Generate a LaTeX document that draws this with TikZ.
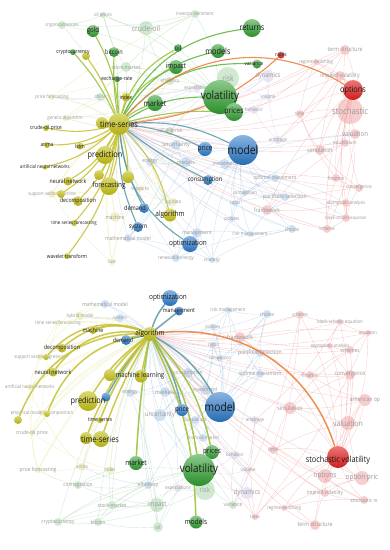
\documentclass[tikz,border=0pt]{standalone}
\usepackage{fontspec}
\setmainfont{Open Sans}[FakeStretch=0.86]
\usepackage{xcolor}
\definecolor{kwGreen}{HTML}{2E9E2E}
\definecolor{kwYellow}{HTML}{C2BE14}
\definecolor{kwBlue}{HTML}{2878C8}
\definecolor{kwRed}{HTML}{E01E1E}
\definecolor{kwPurple}{HTML}{9A80D0}
\definecolor{edgeYellow}{HTML}{C8C43A}
\definecolor{edgeLime}{HTML}{9CC23C}
\definecolor{edgeGreen}{HTML}{62B843}
\definecolor{edgeTeal}{HTML}{5E9EA8}
\definecolor{edgeOrange}{HTML}{EA8340}
\definecolor{darkText}{HTML}{1A1A1A}
\usepackage{tikz}
\usetikzlibrary{backgrounds}
\tikzset{
    % keyword bubbles
    kw base/.style={circle, inner sep=0pt, draw=none, minimum size=#1},
    green kw/.style={kw base=#1, top color=kwGreen!55!white, bottom color=kwGreen!90!black},
    yellow kw/.style={kw base=#1, top color=kwYellow!60!white, bottom color=kwYellow!92!black},
    blue kw/.style={kw base=#1, top color=kwBlue!55!white, bottom color=kwBlue!90!black},
    red kw/.style={kw base=#1, top color=kwRed!60!white, bottom color=kwRed!92!black},
    % labels on top of the bubbles
    kw label/.style={font=\fontsize{#1}{#1}\selectfont, text=darkText, inner sep=0pt},
    % background keywords
    faded dot/.style={circle, inner sep=0pt, minimum size=#1, opacity=.55},
    faded label/.style={font=\fontsize{#1}{#1}\selectfont, text=black!40, inner sep=0pt},
    web/.style={line width=.35pt, draw=#1!50, opacity=.45},
    % highlighted links
    link/.style={draw=#1, line width=1.3pt, opacity=.9, line cap=round},
}

\begin{document}
\begin{tikzpicture}[x=1pt, y=-1pt]
    \useasboundingbox (0,0) rectangle (390,550);

    % ---- top map: time-series ----
    \node[yellow kw=12pt] (tts2) at (102,123) {};
    \node[yellow kw=8pt] (tylwa) at (86,56) {};
    \node[yellow kw=10pt] (tylwb) at (99,175) {};
    \node[yellow kw=12pt] (tylwc) at (128,177) {};
    \node[yellow kw=8pt] (tylwd) at (61,194) {};
    \node[green kw=12pt, label={[kw label=7]center:gold}] (tgold) at (93,31) {};
    \node[green kw=6pt, label={[kw label=5.5]center:cryptocurrency}] (tcrypto) at (73,52) {};
    \node[green kw=10pt, label={[kw label=6.5]center:bitcoin}] (tbitcoin) at (114,52) {};
    \node[green kw=6pt, label={[kw label=5.5]center:exchange-rate}] (texrate) at (117,79) {};
    \node[yellow kw=9pt, label={[kw label=5.5]center:index}] (tindex) at (126,97) {};
    \node[green kw=16pt, label={[kw label=8]center:market}] (tmarket) at (155,103) {};
    \node[green kw=14pt, label={[kw label=7.5]center:impact}] (timpact) at (176,67) {};
    \node[green kw=8pt, label={[kw label=6.5]center:oil}] (toil) at (178,48) {};
    \node[green kw=18pt, label={[kw label=8.5]center:returns}] (treturns) at (252,28) {};
    \node[green kw=14pt, label={[kw label=8.5]center:models}] (tmodels) at (218,51) {};
    \node[green kw=9pt, label={[kw label=5.5, xshift=-3pt]center:variance}] (tvariance) at (257,64) {};
    \node[red kw=7pt, label={[kw label=5.5]center:rates}] (trates) at (281,55) {};
    \node[green kw=34pt, label={[kw label=11.5]center:volatility}] (tvol) at (220,97) {};
    \node[green kw=18pt, label={[kw label=8]center:prices}] (tprices) at (234,112) {};
    \node[red kw=20pt, label={[kw label=8.5]center:options}] (toptions) at (353,90) {};
    \node[yellow kw=22pt, label={[kw label=8.5]center:time-series}] (tts) at (119,124) {};
    \node[yellow kw=6pt, label={[kw label=5.5]center:crude-oil price}] (tcop) at (46,128) {};
    \node[yellow kw=6pt, label={[kw label=5.5]center:arima}] (tarima) at (47,145) {};
    \node[yellow kw=7pt, label={[kw label=5.5]center:lstm}] (tlstm) at (80,146) {};
    \node[yellow kw=18pt, label={[kw label=8.5]center:prediction}] (tpred) at (105,155) {};
    \node[yellow kw=5pt, label={[kw label=5]center:artificial neural networks}] (tann) at (45,167) {};
    \node[yellow kw=9pt, label={[kw label=6]center:neural network}] (tnn) at (68,181) {};
    \node[yellow kw=18pt, label={[kw label=7.5]center:forecasting}] (tfore) at (109,186) {};
    \node[yellow kw=10pt, label={[kw label=6]center:decomposition}] (tdecomp) at (78,201) {};
    \node[yellow kw=6pt, label={[kw label=5]center:time series forecasting}] (ttsf) at (74,223) {};
    \node[yellow kw=6pt, label={[kw label=5.5]center:wavelet transform}] (twave) at (67,256) {};
    \node[blue kw=10pt, label={[kw label=6.5, xshift=-9pt]center:demand}] (tdemand) at (144,208) {};
    \node[blue kw=10pt, label={[kw label=6.5]center:system}] (tsystem) at (138,227) {};
    \node[yellow kw=13pt, label={[kw label=7.5]center:algorithm}] (talgo) at (170,215) {};
    \node[blue kw=16pt, label={[kw label=7.5, xshift=-2pt]center:optimization}] (toptim) at (190,244) {};
    \node[blue kw=14pt, label={[kw label=7.5]center:price}] (tprice) at (205,149) {};
    \node[blue kw=10pt, label={[kw label=6.5, xshift=-3pt]center:consumption}] (tconsum) at (208,180) {};
    \node[blue kw=30pt, label={[kw label=12]center:model}] (tmodel) at (243,150) {};

    % ---- bottom map: algorithm ----
    \node[yellow kw=12pt] (bts2) at (86,438) {};
    \node[yellow kw=12pt] (bml2) at (110,375) {};
    \node[blue kw=9pt] (bbluea) at (106,397) {};
    \node[yellow kw=6pt] (bylwa) at (46,357) {};
    \node[yellow kw=8pt] (bylwb) at (18,420) {};
    \node[yellow kw=6pt] (bylwc) at (47,414) {};
    \node[blue kw=16pt, label={[kw label=7.5, xshift=-2pt]center:optimization}] (boptim) at (170,298) {};
    \node[blue kw=9pt, label={[kw label=6]center:management}] (bmanage) at (179,311) {};
    \node[yellow kw=8pt, label={[kw label=6]center:machine}] (bmachine) at (93,330) {};
    \node[blue kw=10pt, label={[kw label=6, xshift=-3pt]center:demand}] (bdemand) at (126,340) {};
    \node[yellow kw=9pt, label={[kw label=6]center:decomposition}] (bdecomp) at (62,348) {};
    \node[yellow kw=9pt, label={[kw label=6]center:neural network}] (bnn) at (53,372) {};
    \node[yellow kw=13pt, label={[kw label=7, xshift=-1pt]center:machine learning}] (bml) at (141,376) {};
    \node[yellow kw=20pt, label={[kw label=8.5]center:prediction}] (bpred) at (88,401) {};
    \node[yellow kw=6pt, label={[kw label=5.5]center:time series}] (btsmall) at (100,420) {};
    \node[yellow kw=16pt, label={[kw label=8.5, xshift=-1pt]center:time-series}] (bts) at (101,439) {};
    \node[green kw=14pt, label={[kw label=7.5]center:market}] (bmarket) at (136,463) {};
    \node[blue kw=12pt, label={[kw label=7]center:price}] (bprice) at (182,410) {};
    \node[blue kw=30pt, label={[kw label=12]center:model}] (bmodel) at (220,407) {};
    \node[green kw=14pt, label={[kw label=7.5]center:prices}] (bprices) at (212,452) {};
    \node[green kw=32pt, label={[kw label=11.5]center:volatility}] (bvol) at (199,470) {};
    \node[green kw=13pt, label={[kw label=7.5]center:models}] (bmodels) at (196,522) {};
    \node[red kw=22pt, label={[kw label=8.5, yshift=-3pt]center:stochastic volatility}] (bsv) at (338,457) {};
    \node[yellow kw=14pt, label={[kw label=7.5]center:algorithm}] (balgo) at (150,334) {};

    \begin{scope}[on background layer]
        \fill[white] (0,0) rectangle (390,550);

        % top map, faded keywords and links
        \begin{scope}
            \clip (0,4) rectangle (371,270);
            \foreach \x/\y/\d/\s/\c/\a/\t [count=\i] in {
                62/25/8/5/kwGreen/tvol/cryptocurrencies, 103/15/6/5/kwGreen/tvol/oil prices,
                146/28/14/8/kwGreen/tvol/crude-oil, 195/14/8/5/kwGreen/tvol/investor sentiment,
                126/67/10/5.5/kwGreen/tvol/stock-market, 170/81/8/5/kwGreen/tvol/efficiency,
                52/97/6/5/kwYellow/tts/price forecasting, 100/97/8/5/kwGreen/tvol/china,
                65/118/6/5/kwYellow/tts/genetic algorithm, 197/88/8/5/kwPurple/tvol/expectations,
                228/78/22/8/kwGreen/tvol/risk, 170/131/8/5/kwGreen/tvol/value-at-risk,
                268/76/12/6.5/kwPurple/tvol/dynamics, 268/97/6/5/kwPurple/tvol/volume,
                254/110/8/5/kwPurple/tvol/behavior, 278/140/8/5/kwPurple/tmodel/arbitrage,
                345/50/10/6/kwRed/toptions/term structure, 316/62/6/5/kwRed/toptions/regime switching,
                340/76/10/6/kwRed/toptions/implied volatility, 350/111/26/9/kwRed/toptions/stochastic,
                300/114/8/5/kwRed/toptions/time, 320/150/10/6/kwRed/toptions/simulation,
                345/143/8/5/kwRed/toptions/equilibrium, 336/178/8/5.5/kwRed/toptions/finance,
                359/188/8/5/kwRed/toptions/convergence, 267/210/10/6/kwRed/toptions/framework,
                327/229/8/5/kwRed/toptions/scheme, 346/218/8/4.5/kwRed/toptions/black-scholes equation,
                346/203/8/5/kwRed/toptions/asymptotic analysis, 355/134/10/7/kwRed/toptions/valuation,
                225/164/10/5.5/kwBlue/tmodel/investment, 275/178/8/5.5/kwBlue/tmodel/optimal investment,
                245/193/6/5/kwBlue/tmodel/competition, 285/197/8/6/kwBlue/tmodel/portfolio selection,
                235/203/6/5/kwBlue/tmodel/costs, 232/219/6/5/kwBlue/tmodel/policies,
                250/234/6/5/kwBlue/tmodel/risk management, 292/229/8/5.5/kwBlue/tmodel/choice,
                212/260/6/5/kwBlue/tmodel/strategy, 197/233/10/5.5/kwBlue/tmodel/management,
                176/258/8/5/kwBlue/tmodel/renewable energy, 128/238/8/5.5/kwBlue/tmodel/mathematical model,
                176/145/10/6/kwBlue/tmodel/uncertainty, 150/162/8/5.5/kwBlue/tmodel/energy,
                186/162/10/5.5/kwBlue/tmodel/markets, 140/189/6/5/kwYellow/tts/networks,
                173/202/8/5/kwYellow/tts/big data, 52/194/8/5/kwYellow/tts/support vector machine,
                112/262/6/5/kwYellow/tts/fuel, 115/217/10/5.5/kwYellow/tts/machine} {
                \node[faded dot=\d pt, fill=\c!40, label={[faded label=\s]center:\t}] (tf\i) at (\x,\y) {};
                \draw[web=\c] (tf\i) to[bend left=12] (\a);
                \draw[web=\c] (tf\i) to[bend left=10] (tts);
                \pgfmathtruncatemacro\j{max(\i-1,1)}
                \pgfmathtruncatemacro\k{max(\i-3,1)}
                \ifnum\i>1 \draw[web=\c] (tf\i) to[bend left=8] (tf\j); \fi
                \ifnum\i>3 \draw[web=\c] (tf\i) to[bend left=8] (tf\k); \fi
            }
            \foreach \n/\b/\c in {
                tgold/-12/edgeLime, tcrypto/-8/edgeLime, tylwa/-8/edgeYellow,
                tbitcoin/5/edgeLime, texrate/0/edgeLime, tindex/0/edgeYellow,
                tmarket/10/edgeLime, timpact/20/edgeLime, toil/22/edgeLime,
                treturns/28/edgeGreen, tmodels/22/edgeGreen, tvariance/25/edgeGreen,
                tvol/15/edgeGreen, tprices/8/edgeLime, toptions/40/edgeOrange,
                trates/-18/edgeOrange, tmodel/15/edgeTeal, tprice/10/edgeTeal,
                tconsum/-5/edgeTeal, tdemand/-10/edgeTeal, tsystem/-12/edgeTeal,
                toptim/-25/edgeTeal, talgo/15/edgeYellow, tcop/12/edgeYellow,
                tarima/15/edgeYellow, tlstm/15/edgeYellow, tpred/10/edgeYellow,
                tann/15/edgeYellow, tnn/15/edgeYellow, tylwb/10/edgeYellow,
                tfore/8/edgeYellow, tylwc/8/edgeYellow, tylwd/15/edgeYellow,
                tdecomp/15/edgeYellow, ttsf/15/edgeYellow, twave/15/edgeYellow}
                \draw[link=\c, line width=1.1pt] (tts) to[bend left=\b] (\n);
        \end{scope}

        % bottom map, faded keywords and links
        \begin{scope}
            \clip (0,277) rectangle (381,542);
            \foreach \x/\y/\d/\s/\c/\a/\t [count=\i] in {
                105/304/8/5.5/kwBlue/bmodel/mathematical model, 80/316/8/5/kwYellow/balgo/hybrid model,
                120/318/8/5/kwBlue/bmodel/system, 58/323/6/5/kwYellow/balgo/time series forecasting,
                40/357/6/5/kwYellow/balgo/support vector regression, 30/387/6/5/kwYellow/balgo/artificial neural networks,
                42/413/6/5/kwYellow/balgo/empirical mode decomposition, 32/433/6/5.5/kwYellow/balgo/crude-oil price,
                38/470/6/5.5/kwYellow/balgo/price forecasting, 82/467/8/5/kwYellow/balgo/arima,
                110/470/8/5/kwYellow/balgo/index, 78/485/8/5.5/kwGreen/bvol/cointegration,
                148/485/8/5.5/kwBlue/bmodel/efficiency, 112/505/8/5.5/kwGreen/bvol/stock-market,
                157/505/14/7/kwGreen/bvol/impact, 58/522/8/5.5/kwGreen/bvol/cryptocurrency,
                98/522/8/5.5/kwGreen/bvol/bitcoin, 158/527/10/5.5/kwGreen/bvol/oil,
                178/488/8/5/kwPurple/bvol/expectations, 205/490/20/7/kwGreen/bvol/risk,
                130/393/8/5.5/kwBlue/bmodel/energy, 165/392/10/6/kwBlue/bmodel/markets,
                160/415/12/6.5/kwBlue/bmodel/uncertainty, 188/373/10/5.5/kwBlue/bmodel/consumption,
                205/390/10/5.5/kwBlue/bmodel/investment, 213/345/6/5/kwBlue/bmodel/costs,
                220/358/6/4.5/kwBlue/bmodel/competition, 213/327/6/5/kwBlue/bmodel/policies,
                228/310/6/5/kwBlue/bmodel/risk management, 267/314/8/5.5/kwBlue/bmodel/choice,
                260/353/8/6/kwBlue/bmodel/portfolio selection, 260/374/8/5.5/kwBlue/bmodel/optimal investment,
                195/420/8/5/kwBlue/bmodel/fluctuations, 203/438/8/5/kwBlue/bmodel/financial market,
                235/455/8/5/kwPurple/bvol/behavior, 248/470/6/5/kwPurple/bvol/volume,
                247/493/12/7/kwPurple/bvol/dynamics, 233/505/8/5.5/kwGreen/bvol/variance,
                255/420/8/5/kwPurple/bmodel/arbitrage, 255/517/6/5/kwRed/bsv/rates,
                300/315/8/5/kwRed/bsv/scheme, 340/322/6/5/kwRed/bsv/black-scholes equation,
                368/333/6/5/kwRed/bsv/equation, 240/337/10/6/kwRed/bsv/framework,
                330/346/6/5/kwRed/bsv/asymptotic analysis, 350/350/8/5.5/kwRed/bsv/schemes,
                310/375/8/5.5/kwRed/bsv/finance, 350/375/10/6/kwRed/bsv/convergence,
                290/408/12/6/kwRed/bsv/simulation, 365/400/12/6/kwRed/bsv/american op,
                348/423/14/8/kwRed/bsv/valuation, 273/450/8/5.5/kwRed/bsv/time,
                325/476/14/7.5/kwRed/bsv/options, 362/478/14/7.5/kwRed/bsv/option pric,
                325/493/8/5.5/kwRed/bsv/implied volatility, 364/500/8/5.5/kwRed/bsv/stochastic in,
                284/508/6/5/kwRed/bsv/regime switching, 315/525/10/6/kwRed/bsv/term structure} {
                \node[faded dot=\d pt, fill=\c!40, label={[faded label=\s]center:\t}] (bf\i) at (\x,\y) {};
                \draw[web=\c] (bf\i) to[bend left=12] (\a);
                \draw[web=\c] (bf\i) to[bend left=10] (balgo);
                \pgfmathtruncatemacro\j{max(\i-1,1)}
                \pgfmathtruncatemacro\k{max(\i-3,1)}
                \ifnum\i>1 \draw[web=\c] (bf\i) to[bend left=8] (bf\j); \fi
                \ifnum\i>3 \draw[web=\c] (bf\i) to[bend left=8] (bf\k); \fi
            }
            \foreach \n/\b/\c in {
                boptim/10/edgeTeal, bmanage/0/edgeTeal, bmachine/-20/edgeYellow,
                bdemand/0/edgeTeal, bdecomp/-30/edgeYellow, bylwa/-35/edgeYellow,
                bnn/-30/edgeYellow, bml/0/edgeYellow, bml2/-5/edgeYellow,
                bpred/-10/edgeYellow, bbluea/-5/edgeTeal, btsmall/-8/edgeYellow,
                bts/-5/edgeYellow, bts2/-10/edgeYellow, bylwb/-35/edgeYellow,
                bylwc/-30/edgeYellow, bmarket/-3/edgeLime, bprice/10/edgeTeal,
                bmodel/15/edgeTeal, bprices/15/edgeLime, bvol/12/edgeLime,
                bmodels/12/edgeLime, bsv/40/edgeOrange}
                \draw[link=\c, line width=1.5pt] (balgo) to[bend left=\b] (\n);
        \end{scope}
    \end{scope}
\end{tikzpicture}
\end{document}
